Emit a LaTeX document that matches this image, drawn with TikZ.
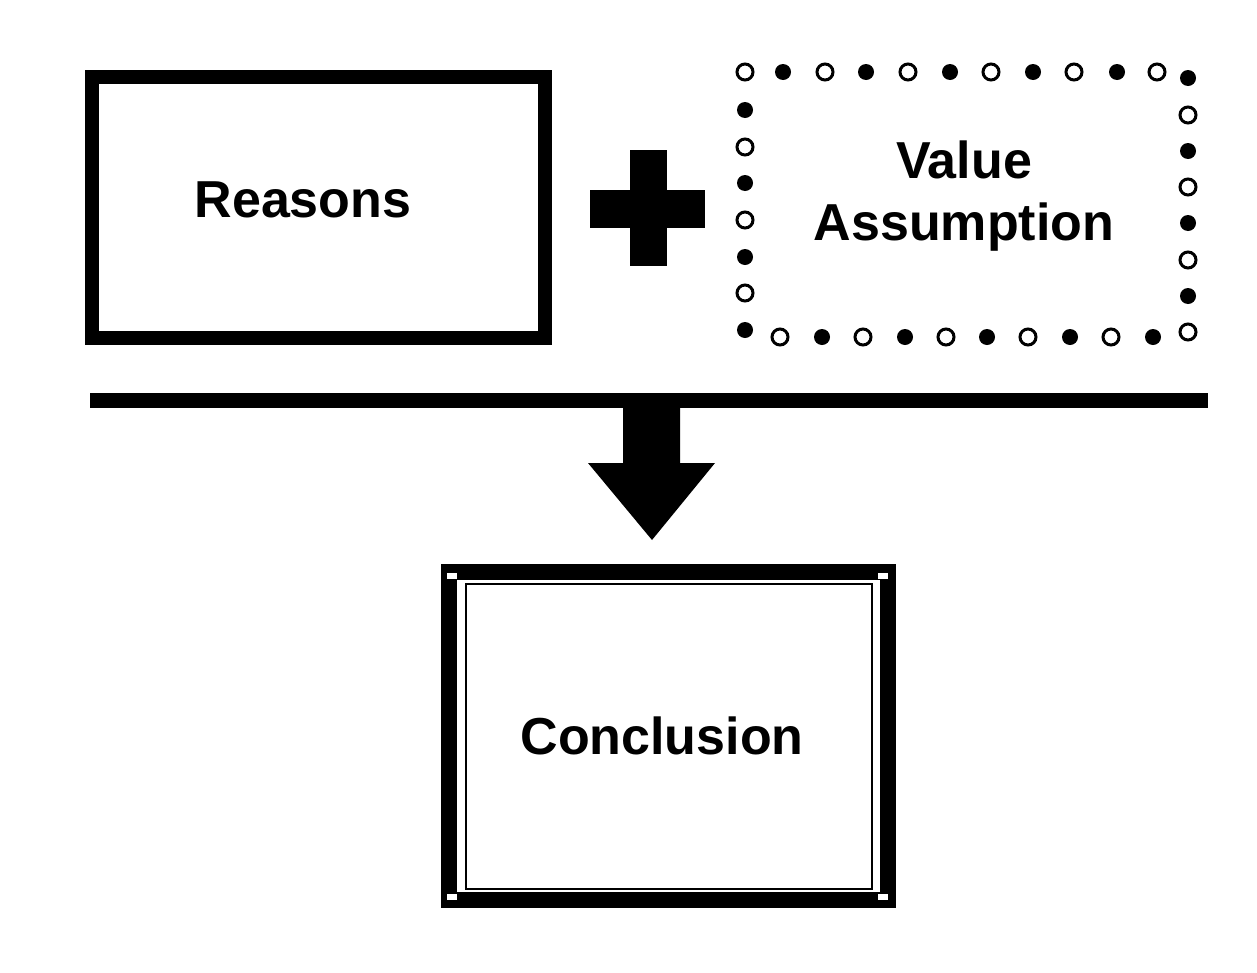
\documentclass[tikz,border=0pt]{standalone}
\usepackage{fontspec}
\setmainfont{Liberation Sans}
\begin{document}
\begin{tikzpicture}[x=1pt,y=-1pt,
  lbl/.style={font=\fontsize{52}{62}\selectfont\bfseries,align=center,inner sep=0},
  fdot/.style={fill=black,draw=none},
  odot/.style={draw=black,line width=3,fill=white}]
\useasboundingbox (0,0) rectangle (1257,972);
% Reasons
\draw[line width=14] (92,77) rectangle (545,338);
\node[lbl] (reasons) at (303,200) {Reasons};
% plus
\fill (590,190) rectangle (705,228);
\fill (630,150) rectangle (667,266);
\node[inner sep=0] (plus) at (648,208) {};
% dotted box
\foreach \x [count=\i] in {745,783,825,866,908,950,991,1033,1074,1117,1157}{
  \pgfmathparse{mod(\i,2)==1?"odot":"fdot"}
  \edef\st{\pgfmathresult}
  \path[\st] (\x,72) circle (8);}
\foreach \y [count=\i] in {110,147,183,220,257,293,330}{
  \pgfmathparse{mod(\i,2)==1?"fdot":"odot"}
  \edef\st{\pgfmathresult}
  \path[\st] (745,\y) circle (8);}
\foreach \x [count=\i] in {780,822,863,905,946,987,1028,1070,1111,1153}{
  \pgfmathparse{mod(\i,2)==1?"odot":"fdot"}
  \edef\st{\pgfmathresult}
  \path[\st] (\x,337) circle (8);}
\foreach \y [count=\i] in {78,115,151,187,223,260,296,332}{
  \pgfmathparse{mod(\i,2)==1?"fdot":"odot"}
  \edef\st{\pgfmathresult}
  \path[\st] (1188,\y) circle (8);}
\node[lbl] (value) at (964,196) {Value\\Assumption};
% line
\fill (90,393) rectangle (1208,408);
\coordinate (split) at (652,408);
% arrow
\fill (623,408) -- (680,408) -- (680,463) -- (715,463) -- (652,540) -- (588,463) -- (623,463) -- cycle;
% Conclusion
\draw[line width=16] (449,572) rectangle (888,900);
\draw[line width=1.5] (466,584) rectangle (872,889);
\foreach \p in {(452,576),(883,576),(452,897),(883,897)}
  \fill[white] \p ++(-5,-3) rectangle ++(10,6);
\node[lbl] (concl) at (662,736) {Conclusion};
\end{tikzpicture}
\end{document}
